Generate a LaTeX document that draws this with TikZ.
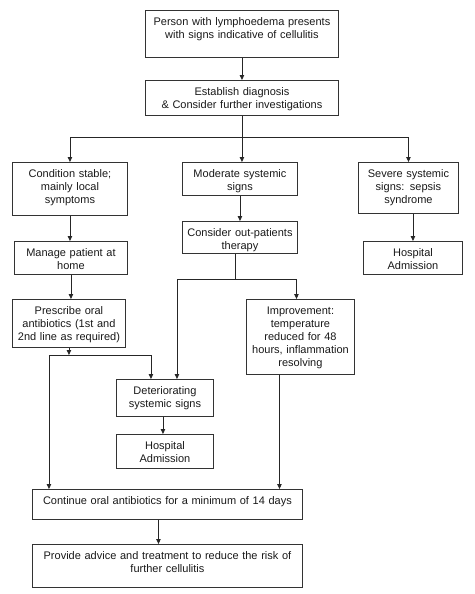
\documentclass[tikz,border=0pt]{standalone}
\usepackage{fontspec}
\setmainfont{Liberation Sans}
\usetikzlibrary{arrows.meta}
\begin{document}
\begin{tikzpicture}[x=1pt,y=-1pt]
	% size of text inside each box
	\def\fs{\fontsize{11}{13}\selectfont}
	% node style definition
	\tikzstyle{block} = [draw=black!80, line width=0.9pt, rectangle, anchor=north west, align=center, font=\fs, text=black!90, inner xsep=2pt, inner ysep=5pt, text height=10pt ];
	\tikzstyle{arrow} = [draw=black!85, line width=0.9pt, -{Triangle[length=5pt,width=4.5pt]} ];
	\tikzstyle{line} = [draw=black!85, line width=0.9pt ];
	\useasboundingbox (0,0) rectangle (474,594);
	% first row
	\node[block, text width=189pt, text depth=27pt] (person) at (145,10) { Person with lymphoedema presents\\with signs indicative of cellulitis };
	\node[block, text width=189pt, text depth=15pt] (diag) at (145,80) { Establish diagnosis\\\& Consider further investigations };
	% three branches
	\node[block, text width=111pt, text depth=33pt] (stable) at (12,162) { Condition stable;\\mainly local\\symptoms };
	\node[block, text width=111pt, text depth=13pt] (moderate) at (182,162) { Moderate systemic\\signs };
	\node[block, text width=96pt, text depth=31pt] (severe) at (358,162) { Severe systemic\\signs: sepsis\\syndrome };
	\node[block, text width=109pt, text depth=13pt] (home) at (14,241) { Manage patient at\\home };
	\node[block, text width=111pt, text depth=12pt] (outpat) at (182,221) { Consider out-patients\\therapy };
	\node[block, text width=95pt, text depth=13pt] (hospR) at (363,241) { Hospital\\Admission };
	\node[block, text width=109pt, text depth=28pt] (prescribe) at (12,299) { Prescribe oral\\antibiotics (1st and\\2nd line as required) };
	\node[block, text width=104pt, text depth=55pt] (improve) at (246,299) { Improvement:\\temperature\\reduced for 48\\hours, inflammation\\resolving };
	\node[block, text width=93pt, text depth=17pt] (deter) at (116,379) { Deteriorating\\systemic signs };
	\node[block, text width=93pt, text depth=14pt] (hospM) at (116,434) { Hospital\\Admission };
	% bottom row
	\node[block, text width=266pt, text depth=10pt] (cont) at (32,489) { Continue oral antibiotics for a minimum of 14 days };
	\node[block, text width=266pt, text depth=23pt] (provide) at (32,544) { Provide advice and treatment to reduce the risk of\\further cellulitis };
	% connectors
	\draw[arrow] (person) -- (diag);
	\coordinate (branch) at (diag.south |- 0,137);
	\draw[line] (diag.south) -- (branch);
	\draw[arrow] (branch) -- (branch |- moderate.north);
	\draw[arrow] (branch) -| (stable.north);
	\draw[arrow] (branch) -| (severe.north);
	\draw[arrow] (stable.south) -- (stable.south |- home.north);
	\draw[arrow] (home.south) -- (home.south |- prescribe.north);
	\draw[arrow] (moderate) -- (outpat);
	\draw[arrow] (hospR.north |- severe.south) -- (hospR.north);
	% out-patients split
	\coordinate (split) at ([xshift=-5pt]outpat.south |- 0,279);
	\draw[line] ([xshift=-5pt]outpat.south) -- (split);
	\draw[arrow] (split) -| ([xshift=12pt]deter.north);
	\draw[arrow] (split) -| ([xshift=-4pt]improve.north);
	% oral antibiotics split
	\coordinate (oral) at (prescribe.south |- 0,355);
	\draw[arrow] (prescribe) -- (oral);
	\draw[arrow] ([xshift=-20pt]oral) -| ([xshift=-14pt]deter.north);
	\draw[arrow] ([xshift=-20pt]oral) -- ([xshift=-20pt]oral |- cont.north);
	\draw[arrow] ([xshift=-2pt]deter.south) -- ([xshift=-2pt]hospM.north);
	\draw[arrow] ([xshift=-21pt]improve.south) -- ([xshift=-21pt]improve.south |- cont.north);
	\draw[arrow] ([xshift=-9pt]cont.south) -- ([xshift=-9pt]provide.north);
\end{tikzpicture}
\end{document}
